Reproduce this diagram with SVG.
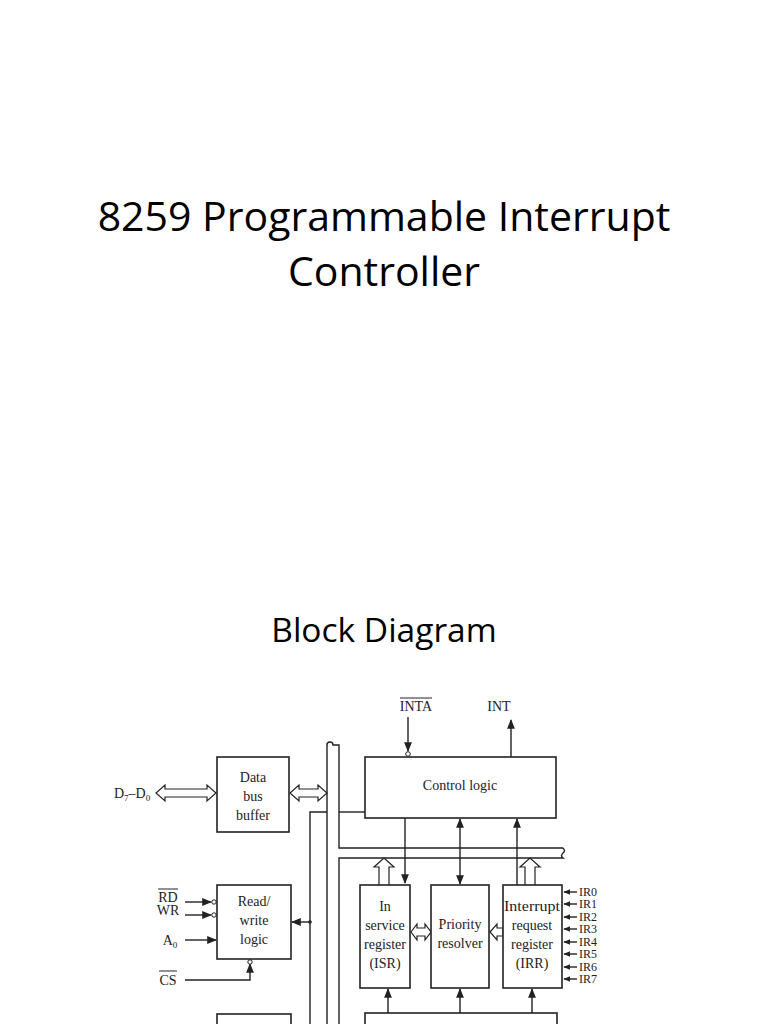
<svg xmlns="http://www.w3.org/2000/svg" width="768" height="1024" viewBox="0 0 768 1024">
<style>
.t{font-family:"Open Sans","Liberation Sans",sans-serif;fill:#000;text-anchor:middle}
.s{font-family:"Liberation Serif",serif;font-size:14px;fill:#222;text-anchor:middle}
.ir{font-family:"Liberation Serif",serif;font-size:12px;fill:#222}
.b{fill:#fff;stroke:#222;stroke-width:1.6}
.l{fill:none;stroke:#222;stroke-width:1.4}
.w{fill:#fff;stroke:#222;stroke-width:1.2}
</style>
<defs>
<marker id="a" viewBox="0 0 10 10" refX="9" refY="5" markerWidth="7" markerHeight="7" orient="auto"><path d="M0,1 L10,5 L0,9 z" fill="#222"/></marker>
<marker id="s" viewBox="0 0 10 10" refX="9" refY="5" markerWidth="5" markerHeight="5" orient="auto"><path d="M0,1 L10,5 L0,9 z" fill="#222"/></marker>
</defs>
<rect width="768" height="1024" fill="#fff"/>
<text class="t" x="384" y="231" font-size="41">8259 Programmable Interrupt</text>
<text class="t" x="384" y="286" font-size="41">Controller</text>
<text class="t" x="384" y="642" font-size="33.5">Block Diagram</text>

<g id="connectors">
<path class="l" d="M327,1024 V745 q0,-3 3,-3 q3,0 3,3 h6 V848 H563"/>
<path class="l" d="M563,848 q3,3 0,5 q-3,3 0,5 H339 V1024"/>
<path class="l" d="M310,1024 V812 H327"/>
<line class="l" x1="339" y1="812" x2="365" y2="812"/>
<path class="w" d="M156,793 l9,-8 v4 h42 v-4 l9,8 l-9,8 v-4 h-42 v4 z"/>
<path class="w" d="M290,793 l9,-8 v4 h19 v-4 l9,8 l-9,8 v-4 h-19 v4 z"/>
<line class="l" x1="185" y1="902" x2="211" y2="902" marker-end="url(#a)"/>
<circle cx="214" cy="902" r="2.2" fill="#fff" stroke="#222"/>
<line class="l" x1="185" y1="915" x2="211" y2="915" marker-end="url(#a)"/>
<circle cx="214" cy="915" r="2.2" fill="#fff" stroke="#222"/>
<line class="l" x1="185" y1="940" x2="216" y2="940" marker-end="url(#a)"/>
<path class="l" d="M185,980 H250 V964" marker-end="url(#a)"/>
<circle cx="250" cy="962" r="2.2" fill="#fff" stroke="#222"/>
<line class="l" x1="310" y1="922" x2="292" y2="922" marker-end="url(#a)"/>
<circle cx="310" cy="922" r="1.8" fill="#222"/>
<line class="l" x1="408" y1="717" x2="408" y2="751" marker-end="url(#a)"/>
<circle cx="408" cy="754" r="2.3" fill="#fff" stroke="#222"/>
<line class="l" x1="511" y1="757" x2="511" y2="720" marker-end="url(#a)"/>
<line class="l" x1="405" y1="818" x2="405" y2="883" marker-end="url(#a)" stroke-width="1"/>
<line class="l" x1="460" y1="850" x2="460" y2="819" marker-end="url(#a)"/>
<line class="l" x1="460" y1="850" x2="460" y2="884" marker-end="url(#a)"/>
<line class="l" x1="517" y1="885" x2="517" y2="819" marker-end="url(#a)"/>
<path class="w" d="M379,885 v-18 h-5 l10,-9 l10,9 h-5 v18"/>
<path class="w" d="M525,885 v-18 h-5 l10,-9 l10,9 h-5 v18"/>
<path class="w" d="M411,932 l6,-8 v4 h8 v-4 l6,8 l-6,8 v-4 h-8 v4 z"/>
<path class="w" d="M490,932 l7,-8 v4 h6 v8 h-6 v4 z"/>
<g class="l">
<line x1="577" y1="892" x2="564" y2="892" marker-end="url(#s)"/>
<line x1="577" y1="904" x2="564" y2="904" marker-end="url(#s)"/>
<line x1="577" y1="917" x2="564" y2="917" marker-end="url(#s)"/>
<line x1="577" y1="929" x2="564" y2="929" marker-end="url(#s)"/>
<line x1="577" y1="942" x2="564" y2="942" marker-end="url(#s)"/>
<line x1="577" y1="954" x2="564" y2="954" marker-end="url(#s)"/>
<line x1="577" y1="967" x2="564" y2="967" marker-end="url(#s)"/>
<line x1="577" y1="979" x2="564" y2="979" marker-end="url(#s)"/>
</g>
<line class="l" x1="388" y1="1013" x2="388" y2="989" marker-end="url(#a)"/>
<line class="l" x1="460" y1="1013" x2="460" y2="989" marker-end="url(#a)"/>
<line class="l" x1="532" y1="1013" x2="532" y2="989" marker-end="url(#a)"/>
</g>

<text class="s" x="132" y="798">D<tspan font-size="9" dy="3">7</tspan><tspan dy="-3">–D</tspan><tspan font-size="9" dy="3">0</tspan></text>
<text class="s" x="168" y="902">RD</text><line x1="158" y1="889" x2="178" y2="889" stroke="#222"/>
<text class="s" x="168" y="915">WR</text>
<text class="s" x="170" y="945">A<tspan font-size="9" dy="3">0</tspan></text>
<text class="s" x="168" y="985">CS</text><line x1="159" y1="971" x2="177" y2="971" stroke="#222"/>
<text class="s" x="416" y="711">INTA</text><line x1="400" y1="698" x2="432" y2="698" stroke="#222"/>
<text class="s" x="499" y="711">INT</text>
<text class="ir" x="579" y="896">IR0</text>
<text class="ir" x="579" y="908">IR1</text>
<text class="ir" x="579" y="921">IR2</text>
<text class="ir" x="579" y="933">IR3</text>
<text class="ir" x="579" y="946">IR4</text>
<text class="ir" x="579" y="958">IR5</text>
<text class="ir" x="579" y="971">IR6</text>
<text class="ir" x="579" y="983">IR7</text>

<g id="data-bus-buffer"><rect class="b" x="217" y="757" width="72" height="75"/>
<text class="s" x="253" y="782">Data</text><text class="s" x="253" y="801">bus</text><text class="s" x="253" y="820">buffer</text></g>
<g id="read-write-logic"><rect class="b" x="217" y="885" width="74" height="74"/>
<text class="s" x="254" y="906">Read/</text><text class="s" x="254" y="925">write</text><text class="s" x="254" y="944">logic</text></g>
<g id="control-logic"><rect class="b" x="365" y="757" width="191" height="61"/>
<text class="s" x="460" y="790">Control logic</text></g>
<g id="isr"><rect class="b" x="360" y="885" width="50" height="103"/>
<text class="s" x="385" y="911">In</text><text class="s" x="385" y="930">service</text><text class="s" x="385" y="949">register</text><text class="s" x="385" y="968">(ISR)</text></g>
<g id="priority-resolver"><rect class="b" x="431" y="885" width="58" height="103"/>
<text class="s" x="460" y="929">Priority</text><text class="s" x="460" y="948">resolver</text></g>
<g id="irr"><rect class="b" x="503" y="885" width="59" height="103"/>
<text class="s" x="532" y="911" textLength="56" lengthAdjust="spacingAndGlyphs">Interrupt</text><text class="s" x="532" y="930">request</text><text class="s" x="532" y="949">register</text><text class="s" x="532" y="968">(IRR)</text></g>
<g id="cascade-buffer"><rect class="b" x="217" y="1014" width="74" height="20"/></g>
<g id="interrupt-mask-register"><rect class="b" x="365" y="1013" width="192" height="20"/></g>
</svg>
